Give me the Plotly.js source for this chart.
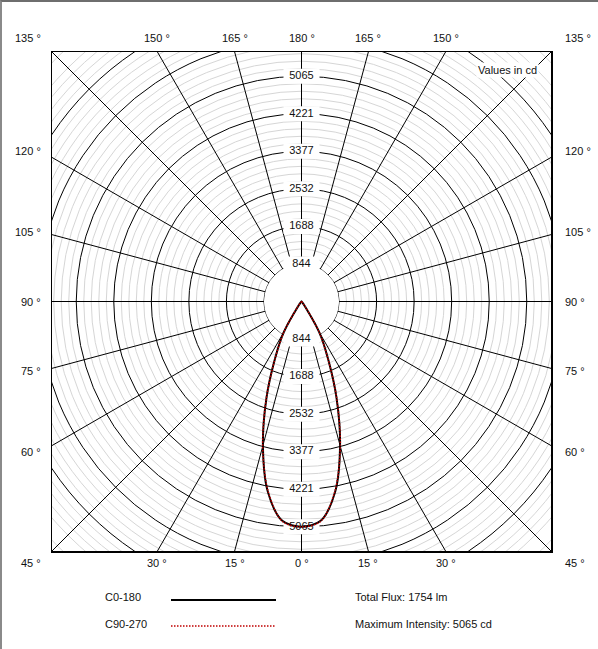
<!DOCTYPE html>
<html>
<head>
<meta charset="utf-8">
<script src="https://cdn.plot.ly/plotly-3.0.1.min.js"></script>
<style>
  html, body { margin: 0; padding: 0; background: #fff; }
  #wrap { position: relative; width: 598px; height: 649px; }
  #frame { position: absolute; left: 0; top: 0; width: 596px; height: 647px;
           border-top: 2px solid #6e6e6e; border-left: 2px solid #8a8a8a; pointer-events: none; }
</style>
</head>
<body>
<div id="wrap">
  <div id="chart" style="width:598px;height:649px;"></div>
  <div id="frame"></div>
</div>
<script>
// gamma angles (0 = straight down), intensities in cd
const gammaAngles = [0, 5, 10, 15, 20, 25, 30, 35, 40, 45, 50, 55, 60, 65, 70, 75, 80, 85, 90];
const intensityC0_180 = [5065, 4950, 4350, 3350, 2300, 1400, 800, 150, 40, 15, 5, 0, 0, 0, 0, 0, 0, 0, 0];
const intensityC90_270 = [5065, 4960, 4330, 3370, 2310, 1390, 790, 160, 45, 15, 5, 0, 0, 0, 0, 0, 0, 0, 0];

const ringLabels = ["844", "1688", "2532", "3377", "4221", "5065"];
const rayAngles = [0, 15, 30, 45, 60, 75, 90, 105, 120, 135, 150, 165, 180];

const seriesNames = ["C0-180", "C90-270"];
const totalFlux = 1754;
const maxIntensity = 5065;

// ---- geometry of the plot square
const R = 5610;                 // half width of the square in cd
const ringStep = maxIntensity / 6;
const PL = 52, PT = 52, PS = 499;   // plot area left / top / size in px
const W = 598, H = 649;

const font = { family: "Liberation Sans, Arial, sans-serif", size: 11, color: "#111" };

function paperX(px) { return (px - PL) / PS; }
function paperY(py) { return (PT + PS - py) / PS; }

const shapes = [];

// minor grey circles
const maxMinor = Math.ceil(R * Math.SQRT2 / (ringStep / 5));
for (let k = 1; k <= maxMinor; k++) {
  if (k % 5 === 0) continue;
  const r = k * ringStep / 5;
  shapes.push({ type: "circle", xref: "x", yref: "y", layer: "below",
    x0: -r, x1: r, y0: -r, y1: r, line: { color: "#d6d6d6", width: 1 } });
}

// major black circles
for (let k = 1; k <= 8; k++) {
  const r = k * ringStep;
  shapes.push({ type: "circle", xref: "x", yref: "y", layer: "below",
    x0: -r, x1: r, y0: -r, y1: r, line: { color: "#000", width: 1 } });
}

// radial lines every 15 deg
for (let a = 0; a < 180; a += 15) {
  const t = a * Math.PI / 180, L = 2 * R;
  shapes.push({ type: "line", xref: "x", yref: "y", layer: "below",
    x0: -L * Math.sin(t), y0: L * Math.cos(t), x1: L * Math.sin(t), y1: -L * Math.cos(t),
    line: { color: "#000", width: 1 } });
}

// white hole in the middle
shapes.push({ type: "circle", xref: "x", yref: "y", layer: "below",
  x0: -ringStep, x1: ringStep, y0: -ringStep, y1: ringStep,
  fillcolor: "#fff", line: { width: 0 } });

// white boxes behind ring labels
const ringY = [];
const ringText = [];
ringLabels.forEach((lab, i) => {
  [1, -1].forEach(s => {
    const y = s * (i + 1) * ringStep;
    ringY.push(y);
    ringText.push(lab);
    shapes.push({ type: "rect", xref: "x", yref: "y", layer: "below",
      xsizemode: "pixel", xanchor: 0, x0: -18, x1: 18,
      ysizemode: "pixel", yanchor: y, y0: -7.5, y1: 7.5,
      fillcolor: "#fff", line: { width: 0 } });
  });
});

// legend sample lines
shapes.push({ type: "line", xref: "paper", yref: "paper",
  x0: paperX(171), x1: paperX(276), y0: paperY(600), y1: paperY(600),
  line: { color: "#000", width: 2 } });
shapes.push({ type: "line", xref: "paper", yref: "paper",
  x0: paperX(171), x1: paperX(276), y0: paperY(626), y1: paperY(626),
  line: { color: "#c00000", width: 1.5, dash: "1.5px,1.5px" } });

// angle labels round the square
const annotations = [];
rayAngles.forEach(g => {
  const sides = (g === 0 || g === 180) ? [1] : [-1, 1];
  sides.forEach(s => {
    const t = g * Math.PI / 180;
    const dx = s * Math.sin(t), dy = -Math.cos(t);
    const m = Math.max(Math.abs(dx), Math.abs(dy));
    const ex = R * dx / m, ey = R * dy / m;
    const ann = { xref: "x", yref: "y", text: g + " °", showarrow: false, font: font,
      yanchor: "middle" };
    const eps = 1e-6;
    const isSide = Math.abs(dx) > Math.abs(dy) - eps;
    const isTB = Math.abs(dy) > Math.abs(dx) - eps;
    if (isSide) {
      ann.x = ex;
      ann.xanchor = s < 0 ? "right" : "left";
      ann.xshift = s < 0 ? -9 : 12;
    } else {
      ann.x = ex;
      ann.xanchor = "center";
    }
    if (isTB) {
      ann.y = ey;
      ann.yshift = dy > 0 ? 14 : -12;
    } else {
      ann.y = R * 1.045 * dy / Math.abs(dx);
    }
    annotations.push(ann);
  });
});

annotations.push({ xref: "paper", yref: "paper", x: paperX(539), y: paperY(70),
  xanchor: "right", yanchor: "middle", text: "Values in cd", showarrow: false,
  font: font, bgcolor: "#fff", borderpad: 1 });

// legend texts
annotations.push({ xref: "paper", yref: "paper", x: paperX(103), y: paperY(597),
  xanchor: "left", yanchor: "middle", text: seriesNames[0], showarrow: false, font: font });
annotations.push({ xref: "paper", yref: "paper", x: paperX(103), y: paperY(624),
  xanchor: "left", yanchor: "middle", text: seriesNames[1], showarrow: false, font: font });
annotations.push({ xref: "paper", yref: "paper", x: paperX(353), y: paperY(597),
  xanchor: "left", yanchor: "middle", text: "Total Flux: " + totalFlux + " lm", showarrow: false, font: font });
annotations.push({ xref: "paper", yref: "paper", x: paperX(353), y: paperY(624),
  xanchor: "left", yanchor: "middle", text: "Maximum Intensity: " + maxIntensity + " cd", showarrow: false, font: font });

// mirror a half plane to both sides of nadir
function mirrorTheta(g) { return g.slice(1).reverse().map(v => -v).concat(g); }
function mirrorR(v) { return v.slice(1).reverse().concat(v); }

const traces = [
  {
    type: "scatter", mode: "text", x: ringY.map(() => 0), y: ringY, text: ringText,
    textfont: font, hoverinfo: "skip", cliponaxis: false, showlegend: false
  },
  {
    type: "scatterpolar", mode: "lines", subplot: "polar",
    theta: mirrorTheta(gammaAngles), r: mirrorR(intensityC0_180),
    name: seriesNames[0], line: { color: "#000", width: 2, shape: "spline", smoothing: 0.9 },
    hoverinfo: "skip"
  },
  {
    type: "scatterpolar", mode: "lines", subplot: "polar",
    theta: mirrorTheta(gammaAngles), r: mirrorR(intensityC90_270),
    name: seriesNames[1],
    line: { color: "#c00000", width: 1.5, dash: "1.5px,1.5px", shape: "spline", smoothing: 0.9 },
    hoverinfo: "skip"
  }
];

const layout = {
  width: W, height: H,
  margin: { l: PL, r: W - PL - PS, t: PT, b: H - PT - PS, pad: 0 },
  paper_bgcolor: "#fff", plot_bgcolor: "#fff",
  showlegend: false,
  font: font,
  xaxis: { range: [-R, R], showgrid: false, zeroline: false, showticklabels: false, ticks: "",
           showline: true, mirror: true, linecolor: "#000", linewidth: 1.5, fixedrange: true },
  yaxis: { range: [-R, R], showgrid: false, zeroline: false, showticklabels: false, ticks: "",
           showline: true, mirror: true, linecolor: "#000", linewidth: 1.5, fixedrange: true },
  polar: {
    domain: { x: [0, 1], y: [0, 1] },
    bgcolor: "rgba(0,0,0,0)",
    radialaxis: { visible: false, range: [0, R], autorange: false },
    angularaxis: { visible: false, rotation: -90, direction: "counterclockwise" }
  },
  shapes: shapes,
  annotations: annotations
};

Plotly.newPlot("chart", traces, layout, { displayModeBar: false, staticPlot: true });
</script>
</body>
</html>
